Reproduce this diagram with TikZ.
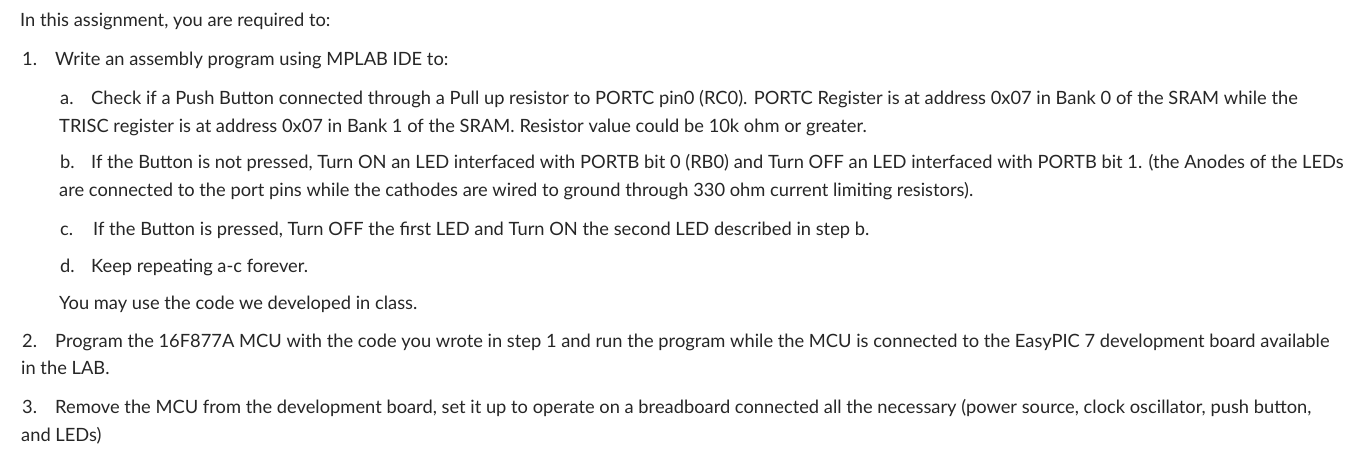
\documentclass[tikz,border=0pt]{standalone}
\usepackage{fontspec}
\setmainfont{Lato}
\tikzset{
  txt/.style={anchor=mid west, inner sep=0pt, font=\fontsize{18.3}{22}\selectfont, text=black!85}
}
\begin{document}
\begin{tikzpicture}[x=1pt, y=-1pt]
		\useasboundingbox (0,0) rectangle (1362,457);
		% intro
		\node[txt] (intro) at (20,24) {In this assignment, you are required to:};
		% item 1
		\node[txt] (n1) at (22,63) {1.};
		\node[txt] (t1) at (55,63) {Write an assembly program using MPLAB IDE to:};
		\node[txt] (na) at (60,102) {a.};
		\node[txt] (ta) at (91,102) {Check if a Push Button connected through a Pull up resistor to PORTC pin0 (RC0). PORTC Register is at address 0x07 in Bank 0 of the SRAM while the};
		\node[txt] (ta2) at (59,130) {TRISC register is at address 0x07 in Bank 1 of the SRAM. Resistor value could be 10k ohm or greater.};
		\node[txt] (nb) at (60,166) {b.};
		\node[txt] (tb) at (91,166) {If the Button is not pressed, Turn ON an LED interfaced with PORTB bit 0 (RB0) and Turn OFF an LED interfaced with PORTB bit 1. (the Anodes of the LEDs};
		\node[txt] (tb2) at (59,194) {are connected to the port pins while the cathodes are wired to ground through 330 ohm current limiting resistors).};
		\node[txt] (nc) at (60,233) {c.};
		\node[txt] (tc) at (93,233) {If the Button is pressed, Turn OFF the first LED and Turn ON the second LED described in step b.};
		\node[txt] (nd) at (60,270) {d.};
		\node[txt] (td) at (91,270) {Keep repeating a-c forever.};
		\node[txt] (note) at (59,307) {You may use the code we developed in class.};
		% item 2
		\node[txt] (n2) at (22,345) {2.};
		\node[txt] (t2) at (55,345) {Program the 16F877A MCU with the code you wrote in step 1 and run the program while the MCU is connected to the EasyPIC 7 development board available};
		\node[txt] (t22) at (21,372) {in the LAB.};
		% item 3
		\node[txt] (n3) at (22,411) {3.};
		\node[txt] (t3) at (55,411) {Remove the MCU from the development board, set it up to operate on a breadboard connected all the necessary (power source, clock oscillator, push button,};
		\node[txt] (t32) at (21,439) {and LEDs)};
	\end{tikzpicture}
\end{document}
